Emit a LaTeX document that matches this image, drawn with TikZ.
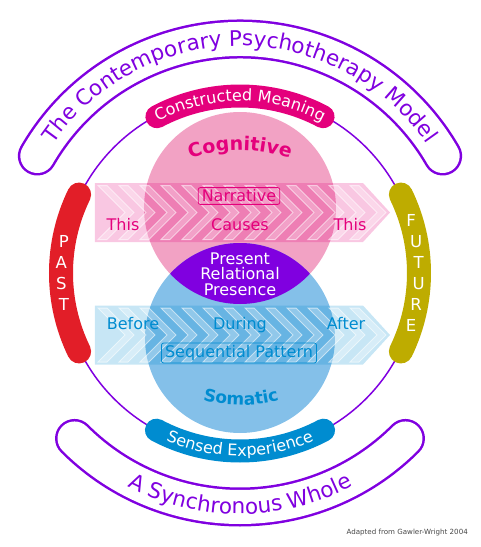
\documentclass[tikz,border=0pt]{standalone}
\usepackage{fontspec}
\setmainfont{DejaVu Sans}
\usetikzlibrary{decorations.text}

\definecolor{psyPurple}{RGB}{128,0,224}
\definecolor{psyMagenta}{RGB}{228,0,124}
\definecolor{psyPink}{RGB}{242,162,196}
\definecolor{psySky}{RGB}{132,192,233}
\definecolor{psyBlue}{RGB}{0,140,208}
\definecolor{psyRed}{RGB}{226,30,40}
\definecolor{psyOlive}{RGB}{190,172,0}
\definecolor{psyGray}{RGB}{70,70,70}

\newcommand\titlesize{\fontsize{21.5}{21.5}\selectfont}
\newcommand\bandsize{\fontsize{16}{16}\selectfont}
\newcommand\cogsize{\fontsize{19}{19}\selectfont\bfseries}
\newcommand\somasize{\fontsize{17}{17}\selectfont\bfseries}

\begin{document}
\begin{tikzpicture}[
  x = 1pt, y = 1pt,
  every node/.style = {inner sep = 0pt, text = white, font = \bandsize},
  outerband/.style = {line width = 39, psyPurple, line cap = round},
  outerfill/.style = {line width = 34, white, line cap = round},
  bar/.style = {line width = 24, line cap = round},
  band/.style = {line width = 23, line cap = round},
  chevron/.style = {draw = white, draw opacity = 0.55, line width = 1,
                    fill = white, fill opacity = 0.28},
  tagbox/.style = {draw, rounded corners = 2, line width = 0.8,
                   inner xsep = 3.5, inner ysep = 2.2},
  letter/.style = {font = \fontsize{16.5}{16.5}\selectfont}
  ]
  \useasboundingbox (-240,-274) rectangle (240,273);

  %thin ring
  \draw[psyPurple, line width = 1.5] (0,0) circle[radius = 178];

  %outer bands
  \foreach \a/\b in {150/30, 225/315} {
    \draw[outerband] (\a:234) arc[start angle = \a, end angle = \b, radius = 234];
    \draw[outerfill] (\a:234) arc[start angle = \a, end angle = \b, radius = 234];
  }

  %past and future
  \draw[bar, psyRed] (154:179) arc[start angle = 154, end angle = 206, radius = 179];
  \draw[bar, psyOlive] (-26:179) arc[start angle = -26, end angle = 26, radius = 179];

  %meaning and experience
  \draw[band, psyMagenta] (118:177) arc[start angle = 118, end angle = 62, radius = 177];
  \draw[band, psyBlue] (242:178) arc[start angle = 242, end angle = 298, radius = 178];

  %two circles
  \fill[psyPink] (0,65) circle[radius = 96];
  \fill[psySky] (0,-65) circle[radius = 95];
  \begin{scope}
    \clip (0,65) circle[radius = 96];
    \fill[psyPurple] (0,-65) circle[radius = 95];
  \end{scope}

  %chevron strips
  \foreach \m/\c in {60.5/psyMagenta, -62/psyBlue} {
    \fill[\c, fill opacity = 0.22] (-145,{\m+29.5}) -- (123,{\m+29.5}) -- (150,\m)
      -- (123,{\m-29.5}) -- (-145,{\m-29.5}) -- cycle;
    \begin{scope}
      \clip (-145,{\m+29.5}) -- (123,{\m+29.5}) -- (150,\m)
        -- (123,{\m-29.5}) -- (-145,{\m-29.5}) -- cycle;
      \foreach \i in {0,...,12}
        \draw[chevron] ({-142+21*\i},{\m+27}) -- ++(9,0) -- ++(27,-27)
          -- ++(-27,-27) -- ++(-9,0) -- ++(27,27) -- cycle;
    \end{scope}
  }

  %curved texts
  \path[decorate, decoration = {text along path, text align = center, text color = psyPurple,
    text = {|\titlesize|The Contemporary Psychotherapy Model}}]
    (155:227) arc[start angle = 155, end angle = 25, radius = 227];
  \path[decorate, decoration = {text along path, text align = center, text color = psyPurple,
    text = {|\titlesize|A Synchronous Whole}}]
    (225:241) arc[start angle = 225, end angle = 315, radius = 241];
  \path[decorate, decoration = {text along path, text align = center, text color = white,
    text = {|\bandsize|Constructed Meaning}}]
    (125:172) arc[start angle = 125, end angle = 55, radius = 172];
  \path[decorate, decoration = {text along path, text align = center, text color = white,
    text = {|\bandsize|Sensed Experience}}]
    (235:183) arc[start angle = 235, end angle = 305, radius = 183];
  \path[shift = {(0,-27)}, decorate, decoration = {text along path, text align = center,
    text color = psyMagenta, text = {|\cogsize|Cognitive}}]
    (115:150) arc[start angle = 115, end angle = 65, radius = 150];
  \path[shift = {(1,18)}, decorate, decoration = {text along path, text align = center,
    text color = psyBlue, text = {|\somasize|Somatic}}]
    (245:150) arc[start angle = 245, end angle = 295, radius = 150];

  %past and future letters
  \foreach \l [count = \i] in {P,A,S,T}
    \node[letter] (past\i) at ({180-asin((52.5-21*\i)/179)}:179) {\l};
  \foreach \l [count = \i] in {F,U,T,U,R,E}
    \node[letter] (future\i) at ({asin((73.5-21*\i)/179)}:179) {\l};

  %cognitive strip
  \node[tagbox, text = psyMagenta, draw = psyMagenta] (narrative) at (-1,77) {Narrative};
  \node[text = psyMagenta, anchor = base] (causes) at (0,43) {Causes};
  \node[text = psyMagenta, anchor = base] (thisL) at (-117,43) {This};
  \node[text = psyMagenta, anchor = base] (thisR) at (110,43) {This};

  %overlap
  \node[align = center, font = {\fontsize{16}{15.5}\selectfont}] (present) at (0,-1)
    {Present\\Relational\\Presence};

  %somatic strip
  \node[text = psyBlue, anchor = base] (before) at (-107,-56) {Before};
  \node[text = psyBlue, anchor = base] (during) at (0,-56) {During};
  \node[text = psyBlue, anchor = base] (after) at (106,-56) {After};
  \node[tagbox, text = psyBlue, draw = psyBlue] (pattern) at (-1,-80) {Sequential Pattern};

  \node[text = psyGray, font = {\fontsize{7.1}{7.1}\selectfont}, anchor = base east]
    (credit) at (228,-261) {Adapted from Gawler-Wright 2004};
\end{tikzpicture}
\end{document}
